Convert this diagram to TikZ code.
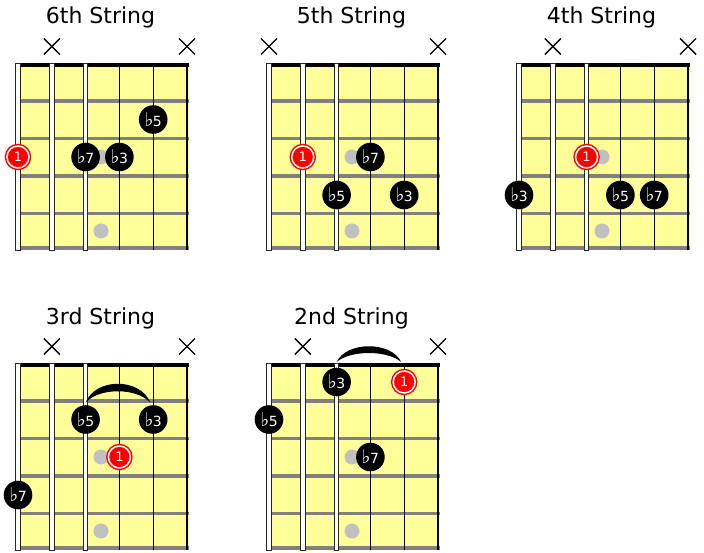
\documentclass[tikz,border=0pt]{standalone}
\usepackage{fontspec}
\setmainfont{DejaVu Sans}
\usetikzlibrary{calc}
\definecolor{board}{RGB}{255,255,153}
\definecolor{fretgray}{RGB}{128,128,128}
\definecolor{markgray}{RGB}{192,192,192}
\definecolor{rootred}{RGB}{255,0,0}
\newcommand\flt{{\fontsize{19}{19}\selectfont ♭}\kern-0.5pt}
\tikzset{
  tone/.style={circle,fill=black,minimum size=28.6pt,inner sep=0pt,text=white,font=\fontsize{14}{14}\selectfont},
  rootdot/.style={circle,fill=rootred,minimum size=22pt,inner sep=0pt,text=white,font=\fontsize{13}{13}\selectfont,
    draw=rootred,line width=1.5pt,double=white,double distance=1.5pt},
  titletext/.style={anchor=base,font=\fontsize{22}{22}\selectfont,text=black},
  mute/.style={line width=1.4pt,black},
  fretline/.style={fretgray,line width=3.5pt},
  thickstring/.style={fill=white,draw=black!85,line width=0.9pt},
  thinstring/.style={black,line width=1.2pt},
  marker/.style={fill=markgray},
  tiefill/.style={fill=black}
}
% #1 title, #2 name, #3 index of left muted string
\newcommand\fretboard[3]{%
  \fill[board] (2.5,0) rectangle (170.5,187);
  \foreach \f in {38,75.5,113,150.5,185} \draw[fretline] (2.5,\f) -- (170.5,\f);
  \fill[black] (2.5,0) rectangle (170.5,4);
  \foreach \i in {0,1,2} \draw[thickstring] ({33.8*\i-2.2},0) rectangle ({33.8*\i+2.2},187);
  \foreach \i in {3,4,5} \draw[thinstring] ({33.8*\i},0) -- ({33.8*\i},187);
  \fill[marker] (83,94) circle (7.5);
  \fill[marker] (83,168) circle (7.5);
  \node[titletext] (#2) at (82.5,-39) {#1};
  \foreach \i in {#3,5} {
    \draw[mute] ({33.8*\i-8},-24.5) -- ({33.8*\i+8},-8.5);
    \draw[mute] ({33.8*\i-8},-8.5) -- ({33.8*\i+8},-24.5);
  }%
}
% tie between two nodes: #1 left node, #2 right node, #3 end height, #4 outer, #5 inner
\newcommand\tie[5]{%
  \fill[tiefill] ($(#1)+(0,-#3)$) .. controls ($(#1)+(10,-#3-#4)$) and ($(#2)+(-13,-#3-#4)$) .. ($(#2)+(-3,-#3)$)
    .. controls ($(#2)+(-17,-#3-#5)$) and ($(#1)+(14,-#3-#5)$) .. ($(#1)+(0,-#3)$) -- cycle;%
}
\begin{document}
\begin{tikzpicture}[x=1pt,y=-1pt]
\useasboundingbox (0,0) rectangle (704,553);
% 6th string
\begin{scope}[shift={(18,63)}]
  \fretboard{6th String}{t6}{1}
  \node[tone] (a5) at ({33.8*4},56.5) {\flt5};
  \node[tone] (a7) at ({33.8*2},94) {\flt7};
  \node[tone] (a3) at ({33.8*3},94) {\flt3};
  \node[rootdot] (a1) at (0,94) {1};
\end{scope}
% 5th string
\begin{scope}[shift={(269,63)}]
  \fretboard{5th String}{t5}{0}
  \node[rootdot] (b1) at ({33.8*1},94) {1};
  \node[tone] (b7) at ({33.8*3},94) {\flt7};
  \node[tone] (b5) at ({33.8*2},132) {\flt5};
  \node[tone] (b3) at ({33.8*4},132) {\flt3};
\end{scope}
% 4th string
\begin{scope}[shift={(519,63)}]
  \fretboard{4th String}{t4}{1}
  \node[rootdot] (c1) at ({33.8*2},94) {1};
  \node[tone] (c3) at (0,132) {\flt3};
  \node[tone] (c5) at ({33.8*3},132) {\flt5};
  \node[tone] (c7) at ({33.8*4},132) {\flt7};
\end{scope}
% 3rd string
\begin{scope}[shift={(18,363)}]
  \fretboard{3rd String}{t3}{1}
  \node[tone] (d5) at ({33.8*2},56.5) {\flt5};
  \node[tone] (d3) at ({33.8*4},56.5) {\flt3};
  \node[rootdot] (d1) at ({33.8*3},94) {1};
  \node[tone] (d7) at (0,132) {\flt7};
\end{scope}
\tie{d5}{d3}{17}{25}{15}
% 2nd string
\begin{scope}[shift={(269,363)}]
  \fretboard{2nd String}{t2}{1}
  \node[tone] (e3) at ({33.8*2},19) {\flt3};
  \node[rootdot] (e1) at ({33.8*4},19) {1};
  \node[tone] (e5) at (0,56.5) {\flt5};
  \node[tone] (e7) at ({33.8*3},94) {\flt7};
\end{scope}
\tie{e3}{e1}{20}{21}{12}
\end{tikzpicture}
\end{document}
